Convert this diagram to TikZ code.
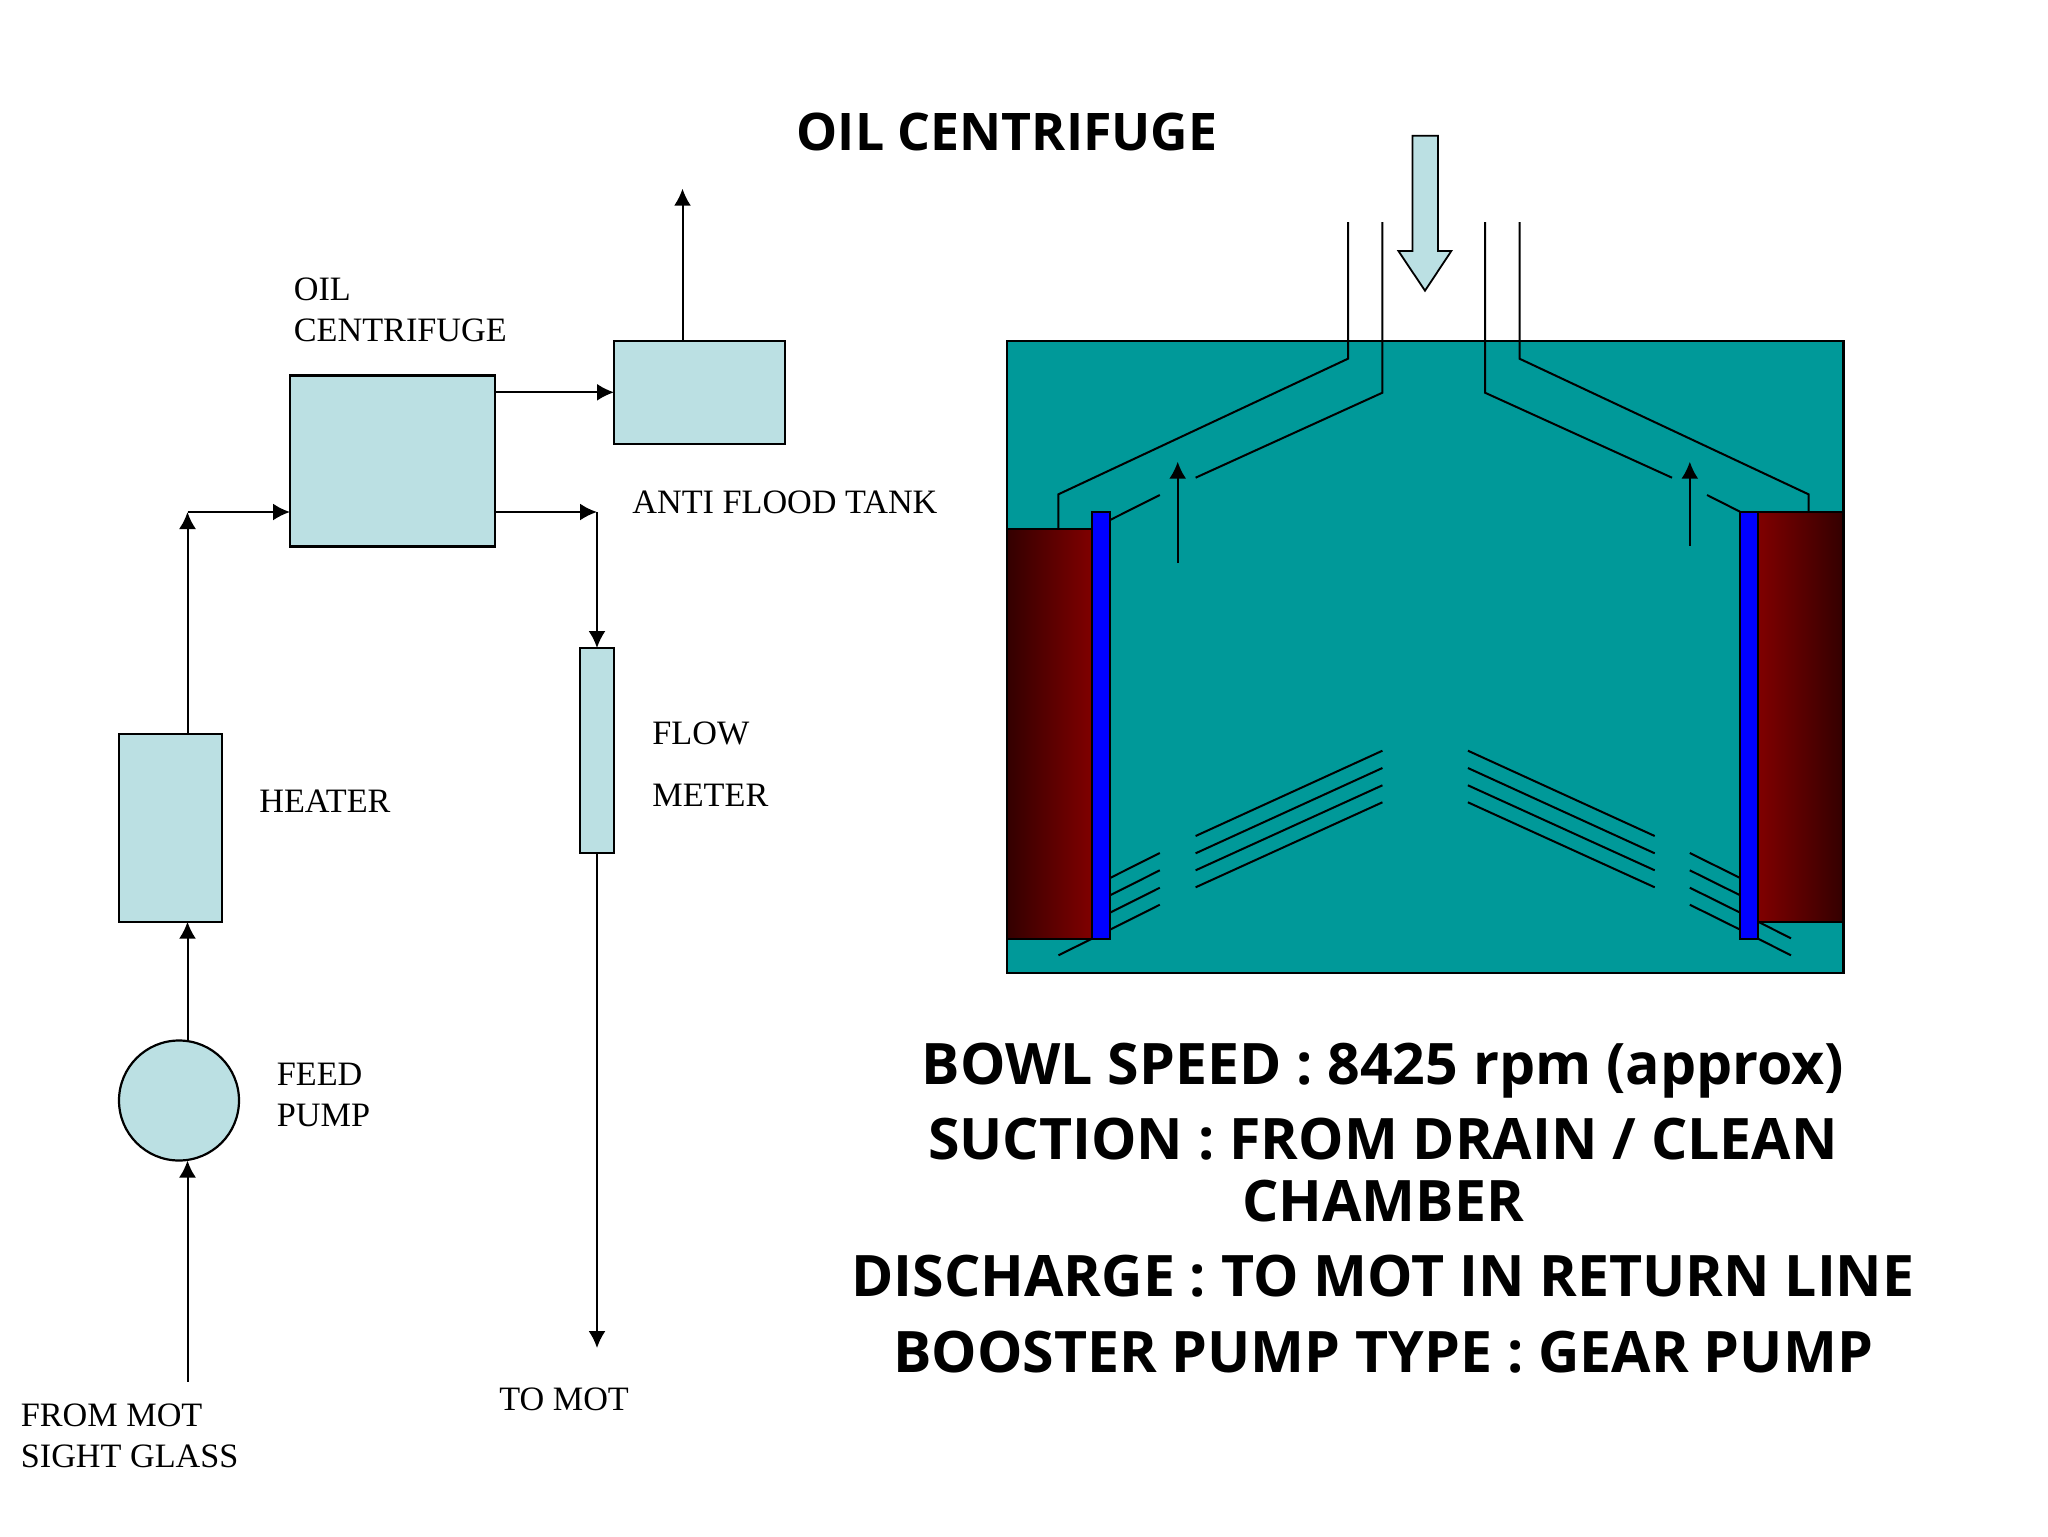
\documentclass[tikz,border=0pt]{standalone}
\usepackage{xcolor}
\usepackage{fontspec}
\setmainfont{Liberation Serif}
\newfontfamily\headfont{Open Sans}
\usetikzlibrary{arrows.meta,calc}
\definecolor{paleblue}{HTML}{BBE0E3}
\definecolor{bowlteal}{HTML}{009999}
\definecolor{liner}{HTML}{0000FF}
\definecolor{wallred}{HTML}{800000}
\definecolor{walldark}{HTML}{330000}

\begin{document}
\begin{tikzpicture}[x=0.5pt,y=-0.5pt,
    unit/.style={draw=black,fill=paleblue,line width=1.1pt,inner sep=0pt,outer sep=0pt,rectangle},
    flow/.style={line width=1pt,-{Latex[length=8.5pt,width=8.5pt]}},
    pipe/.style={line width=1pt},
    tag/.style={anchor=base west,inner sep=0pt,font=\fontsize{17.1}{20}\selectfont},
    head/.style={anchor=base,inner sep=0pt,font=\fontsize{28.6}{34}\headfont\bfseries}]
  \useasboundingbox (0,0) rectangle (2048,1536);

  % flow scheme on the left
  \node[unit,minimum width=102.5pt,minimum height=85.5pt] (centrifuge) at (392.5,461) {};
  \node[unit,minimum width=85.5pt,minimum height=51.5pt] (tank) at (699.5,392.3) {};
  \node[unit,minimum width=17pt,minimum height=102.5pt] (meter) at (597,750.5) {};
  \node[unit,minimum width=51.5pt,minimum height=94pt] (heater) at (170.5,827.7) {};
  \node[unit,circle,minimum size=60pt] (pump) at (179,1100.5) {};

  \coordinate (riser) at (187.5,512);
  \coordinate (bend) at (597,512);
  \coordinate (source) at (187.5,1381.5);
  \coordinate (drain) at (597,1348);
  \coordinate (vent) at (682.5,188.7);

  \draw[flow] (source) -- (pump.south -| riser);
  \draw[flow] (pump.north -| riser) -- (heater.south -| riser);
  \draw[flow] (heater.north -| riser) -- (riser);
  \draw[flow] (riser) -- (centrifuge.west |- riser);
  \draw[flow] (centrifuge.east |- tank) -- (tank.west);
  \draw[flow] (tank.north -| vent) -- (vent);
  \draw[flow] (centrifuge.east |- bend) -- (bend);
  \draw[flow] (bend) -- (meter.north);
  \draw[flow] (meter.south) -- (drain);

  \node[tag] (oiltag) at (293.5,300) {OIL};
  \node[tag] (centag) at (293.5,341) {CENTRIFUGE};
  \node[tag] (tanktag) at (632,513) {ANTI FLOOD TANK};
  \node[tag] (flowtag) at (652,744) {FLOW};
  \node[tag] (metertag) at (652,806) {METER};
  \node[tag] (heattag) at (259,812) {HEATER};
  \node[tag] (feedtag) at (276.5,1085) {FEED};
  \node[tag] (pumptag) at (276.5,1126) {PUMP};
  \node[tag] (totag) at (499,1410) {TO MOT};
  \node[tag] (fromtag) at (20.5,1426) {FROM MOT};
  \node[tag] (sighttag) at (20.5,1467) {SIGHT GLASS};

  % bowl on the right
  \filldraw[fill=bowlteal,draw=black,line width=1.1pt] (1007,341) rectangle (1843.5,972.7);
  \draw[pipe] (1348,222) -- (1348,358.7) -- (1058.4,494.3) -- (1058.4,529);
  \draw[pipe] (1382.4,222) -- (1382.4,392.7) -- (1195.6,477.7);
  \draw[pipe] (1159.8,495) -- (1110,520);
  \draw[pipe] (1485,222) -- (1485,392.7) -- (1672,477.7);
  \draw[pipe] (1707,495) -- (1740,511.7);
  \draw[pipe] (1519.5,222) -- (1519.5,358.7) -- (1808.5,494.3) -- (1808.5,511.7);
  \draw[flow] (1177.7,563) -- (1177.7,461.7);
  \draw[flow] (1689.8,545.7) -- (1689.8,461.7);
  \draw[pipe] (1195.6,836) -- (1382.4,750.7);
  \draw[pipe] (1195.6,853.3) -- (1382.4,768);
  \draw[pipe] (1195.6,870.3) -- (1382.4,785.3);
  \draw[pipe] (1195.6,887.3) -- (1382.4,802.3);
  \draw[pipe] (1467.9,750.7) -- (1654.7,836);
  \draw[pipe] (1467.9,768) -- (1654.7,853.3);
  \draw[pipe] (1467.9,785.3) -- (1654.7,870.3);
  \draw[pipe] (1467.9,802.3) -- (1654.7,887.3);
  \draw[pipe] (1110,878) -- (1159.8,853);
  \draw[pipe] (1110,895.3) -- (1159.8,870.3);
  \draw[pipe] (1110,912.7) -- (1159.8,887.7);
  \draw[pipe] (1110,929.7) -- (1159.8,904.7);
  \draw[pipe] (1058.4,955.3) -- (1092,938.7);
  \draw[pipe] (1689.8,853) -- (1740.2,878);
  \draw[pipe] (1689.8,870.3) -- (1740.2,895.3);
  \draw[pipe] (1689.8,887.7) -- (1740.2,912.7);
  \draw[pipe] (1689.8,904.7) -- (1740.2,929.7);
  \draw[pipe] (1758,921.7) -- (1791,938.3);
  \draw[pipe] (1758,938.7) -- (1791,955.3);
  \draw[line width=1.1pt,left color=walldark,right color=wallred] (1007,529) rectangle (1092,938.7);
  \draw[line width=1.1pt,left color=wallred,right color=walldark] (1758,511.7) rectangle (1843.5,921.7);
  \filldraw[fill=liner,draw=black,line width=1.1pt] (1092,511.7) rectangle (1110,938.7);
  \filldraw[fill=liner,draw=black,line width=1.1pt] (1740,511.7) rectangle (1758,938.7);
  \filldraw[fill=paleblue,draw=black,line width=0.9pt] (1412.4,135.7) -- (1437.9,135.7) -- (1437.9,251) -- (1451.3,251)
    -- (1425,290.7) -- (1398.4,251) -- (1412.4,251) -- cycle;

  % headings
  \node[head,font=\fontsize{25.9}{30}\headfont\bfseries] (title) at (1007,150) {OIL CENTRIFUGE};
  \node[head] (speed) at (1383,1084) {BOWL SPEED : 8425 rpm (approx)};
  \node[head] (suction) at (1383,1159) {SUCTION : FROM DRAIN / CLEAN};
  \node[head] (chamber) at (1383,1221) {CHAMBER};
  \node[head] (discharge) at (1383,1296) {DISCHARGE : TO MOT IN RETURN LINE};
  \node[head] (booster) at (1383,1372) {BOOSTER PUMP TYPE : GEAR PUMP};
\end{tikzpicture}
\end{document}
